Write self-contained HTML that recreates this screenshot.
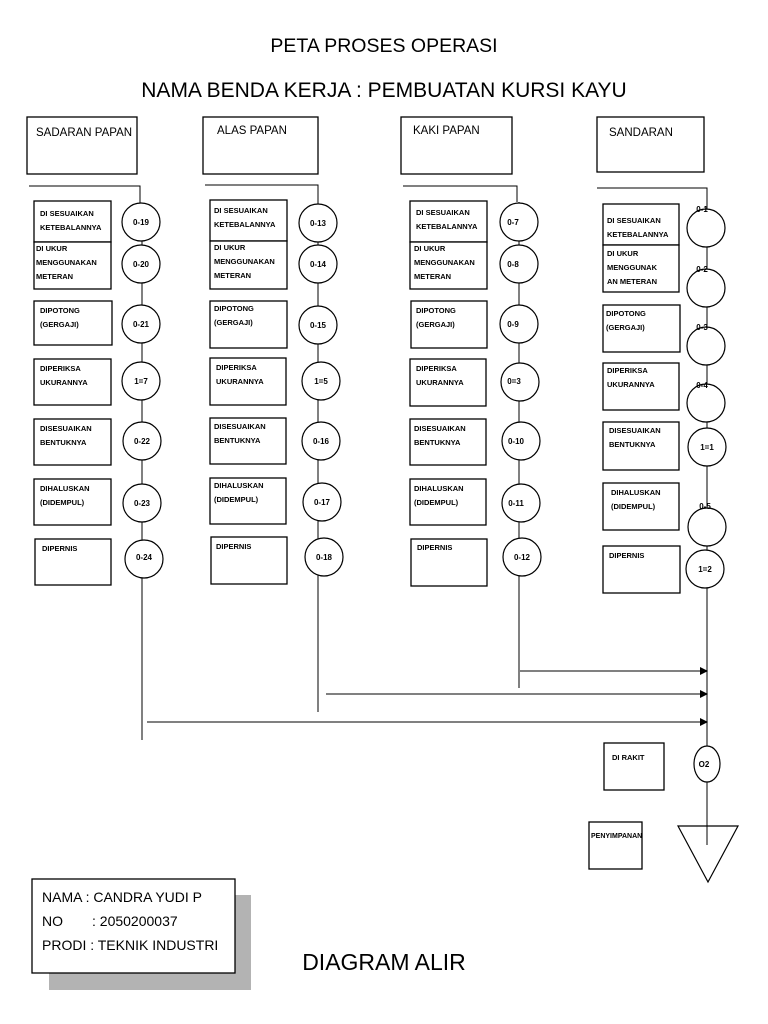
<!DOCTYPE html>
<html><head><meta charset="utf-8"><style>
html,body{margin:0;padding:0;background:#fff;}
svg{display:block;font-family:"Liberation Sans",sans-serif;}
.b{fill:#fff;stroke:#000;stroke-width:1.3}
.t{font-size:7.5px;font-weight:bold;}
.c{fill:#fff;stroke:#000;stroke-width:1.2}
.n{font-size:8px;font-weight:bold;text-anchor:middle;}
.l{stroke:#000;stroke-width:1;fill:none}
.h{font-size:11.5px;}
</style></head><body>
<svg width="768" height="1024" viewBox="0 0 768 1024">
<text x="384" y="52" font-size="19.5" text-anchor="middle">PETA PROSES OPERASI</text>
<text x="384" y="97" font-size="21" text-anchor="middle">NAMA BENDA KERJA : PEMBUATAN KURSI KAYU</text>

<rect class="b" x="27" y="117" width="110" height="57"/><text class="h" x="36" y="136">SADARAN PAPAN</text>
<rect class="b" x="203" y="117" width="115" height="57"/><text class="h" x="217" y="134">ALAS PAPAN</text>
<rect class="b" x="401" y="117" width="111" height="57"/><text class="h" x="413" y="134">KAKI PAPAN</text>
<rect class="b" x="597" y="117" width="107" height="55"/><text class="h" x="609" y="136">SANDARAN</text>

<path class="l" d="M29 186H140V210 M205 185H318V204 M403 186H517V202 M597 188H707V830"/>
<path class="l" d="M142 210V740 M318 204V712 M519 202V688"/>
<path class="l" d="M147 722H700 M326 694H700 M520 671H700"/>
<path d="M700 718L708 722L700 726Z M700 690L708 694L700 698Z M700 667L708 671L700 675Z"/>

<g>
<rect class="b" x="34" y="201" width="77" height="41"/><text class="t" x="40" y="216">DI SESUAIKAN</text><text class="t" x="40" y="230">KETEBALANNYA</text>
<rect class="b" x="34" y="242" width="77" height="47"/><text class="t" x="36" y="251">DI UKUR</text><text class="t" x="36" y="265">MENGGUNAKAN</text><text class="t" x="36" y="279">METERAN</text>
<rect class="b" x="34" y="301" width="78" height="44"/><text class="t" x="40" y="313">DIPOTONG</text><text class="t" x="40" y="327">(GERGAJI)</text>
<rect class="b" x="34" y="359" width="77" height="46"/><text class="t" x="40" y="371">DIPERIKSA</text><text class="t" x="40" y="385">UKURANNYA</text>
<rect class="b" x="34" y="419" width="77" height="46"/><text class="t" x="40" y="431">DISESUAIKAN</text><text class="t" x="40" y="445">BENTUKNYA</text>
<rect class="b" x="34" y="479" width="77" height="46"/><text class="t" x="40" y="491">DIHALUSKAN</text><text class="t" x="40" y="505">(DIDEMPUL)</text>
<rect class="b" x="35" y="539" width="76" height="46"/><text class="t" x="42" y="551">DIPERNIS</text>
<circle class="c" cx="141" cy="222" r="19"/><text class="n" x="141" y="225">0-19</text>
<circle class="c" cx="141" cy="264" r="19"/><text class="n" x="141" y="267">0-20</text>
<circle class="c" cx="141" cy="324" r="19"/><text class="n" x="141" y="327">0-21</text>
<circle class="c" cx="141" cy="381" r="19"/><text class="n" x="141" y="384">1=7</text>
<circle class="c" cx="142" cy="441" r="19"/><text class="n" x="142" y="444">0-22</text>
<circle class="c" cx="142" cy="503" r="19"/><text class="n" x="142" y="506">0-23</text>
<circle class="c" cx="144" cy="559" r="19"/><text class="n" x="144" y="560">0-24</text>
</g>

<g>
<rect class="b" x="210" y="200" width="77" height="41"/><text class="t" x="214" y="213">DI SESUAIKAN</text><text class="t" x="214" y="227">KETEBALANNYA</text>
<rect class="b" x="210" y="241" width="77" height="48"/><text class="t" x="214" y="250">DI UKUR</text><text class="t" x="214" y="264">MENGGUNAKAN</text><text class="t" x="214" y="278">METERAN</text>
<rect class="b" x="210" y="301" width="77" height="47"/><text class="t" x="214" y="311">DIPOTONG</text><text class="t" x="214" y="325">(GERGAJI)</text>
<rect class="b" x="210" y="358" width="76" height="47"/><text class="t" x="216" y="370">DIPERIKSA</text><text class="t" x="216" y="384">UKURANNYA</text>
<rect class="b" x="210" y="418" width="76" height="46"/><text class="t" x="214" y="429">DISESUAIKAN</text><text class="t" x="214" y="443">BENTUKNYA</text>
<rect class="b" x="210" y="478" width="76" height="46"/><text class="t" x="214" y="488">DIHALUSKAN</text><text class="t" x="214" y="502">(DIDEMPUL)</text>
<rect class="b" x="211" y="537" width="76" height="47"/><text class="t" x="216" y="549">DIPERNIS</text>
<circle class="c" cx="318" cy="223" r="19"/><text class="n" x="318" y="226">0-13</text>
<circle class="c" cx="318" cy="264" r="19"/><text class="n" x="318" y="267">0-14</text>
<circle class="c" cx="318" cy="325" r="19"/><text class="n" x="318" y="328">0-15</text>
<circle class="c" cx="321" cy="381" r="19"/><text class="n" x="321" y="384">1=5</text>
<circle class="c" cx="321" cy="441" r="19"/><text class="n" x="321" y="444">0-16</text>
<circle class="c" cx="322" cy="502" r="19"/><text class="n" x="322" y="505">0-17</text>
<circle class="c" cx="324" cy="557" r="19"/><text class="n" x="324" y="560">0-18</text>
</g>

<g>
<rect class="b" x="410" y="201" width="77" height="41"/><text class="t" x="416" y="215">DI SESUAIKAN</text><text class="t" x="416" y="229">KETEBALANNYA</text>
<rect class="b" x="410" y="242" width="77" height="47"/><text class="t" x="414" y="251">DI UKUR</text><text class="t" x="414" y="265">MENGGUNAKAN</text><text class="t" x="414" y="279">METERAN</text>
<rect class="b" x="411" y="301" width="76" height="47"/><text class="t" x="416" y="313">DIPOTONG</text><text class="t" x="416" y="327">(GERGAJI)</text>
<rect class="b" x="410" y="359" width="76" height="47"/><text class="t" x="416" y="371">DIPERIKSA</text><text class="t" x="416" y="385">UKURANNYA</text>
<rect class="b" x="410" y="419" width="76" height="46"/><text class="t" x="414" y="431">DISESUAIKAN</text><text class="t" x="414" y="445">BENTUKNYA</text>
<rect class="b" x="410" y="479" width="76" height="46"/><text class="t" x="414" y="491">DIHALUSKAN</text><text class="t" x="414" y="505">(DIDEMPUL)</text>
<rect class="b" x="411" y="539" width="76" height="47"/><text class="t" x="417" y="550">DIPERNIS</text>
<circle class="c" cx="519" cy="222" r="19"/><text class="n" x="513" y="225">0-7</text>
<circle class="c" cx="519" cy="264" r="19"/><text class="n" x="513" y="267">0-8</text>
<circle class="c" cx="519" cy="324" r="19"/><text class="n" x="513" y="327">0-9</text>
<circle class="c" cx="520" cy="382" r="19"/><text class="n" x="514" y="384">0=3</text>
<circle class="c" cx="521" cy="441" r="19"/><text class="n" x="516" y="444">0-10</text>
<circle class="c" cx="521" cy="503" r="19"/><text class="n" x="516" y="506">0-11</text>
<circle class="c" cx="522" cy="557" r="19"/><text class="n" x="522" y="560">0-12</text>
</g>

<g>
<rect class="b" x="603" y="204" width="76" height="41"/><text class="t" x="607" y="223">DI SESUAIKAN</text><text class="t" x="607" y="237">KETEBALANNYA</text>
<rect class="b" x="603" y="245" width="76" height="47"/><text class="t" x="607" y="256">DI UKUR</text><text class="t" x="607" y="270">MENGGUNAK</text><text class="t" x="607" y="284">AN METERAN</text>
<rect class="b" x="603" y="305" width="77" height="47"/><text class="t" x="606" y="316">DIPOTONG</text><text class="t" x="606" y="330">(GERGAJI)</text>
<rect class="b" x="603" y="363" width="76" height="47"/><text class="t" x="607" y="373">DIPERIKSA</text><text class="t" x="607" y="387">UKURANNYA</text>
<rect class="b" x="603" y="422" width="76" height="48"/><text class="t" x="609" y="433">DISESUAIKAN</text><text class="t" x="609" y="447">BENTUKNYA</text>
<rect class="b" x="603" y="483" width="76" height="47"/><text class="t" x="611" y="495">DIHALUSKAN</text><text class="t" x="611" y="509">(DIDEMPUL)</text>
<rect class="b" x="603" y="546" width="77" height="47"/><text class="t" x="609" y="558">DIPERNIS</text>
<circle class="c" cx="706" cy="228" r="19"/><text class="n" x="702" y="212">0-1</text>
<circle class="c" cx="706" cy="288" r="19"/><text class="n" x="702" y="272">0-2</text>
<circle class="c" cx="706" cy="346" r="19"/><text class="n" x="702" y="330">0-3</text>
<circle class="c" cx="706" cy="403" r="19"/><text class="n" x="702" y="388">0-4</text>
<circle class="c" cx="707" cy="447" r="19"/><text class="n" x="707" y="450">1=1</text>
<circle class="c" cx="707" cy="527" r="19"/><text class="n" x="705" y="509">0-5</text>
<circle class="c" cx="705" cy="569" r="19"/><text class="n" x="705" y="572">1=2</text>
</g>

<rect class="b" x="604" y="743" width="60" height="47"/><text class="t" x="612" y="760">DI RAKIT</text>
<ellipse class="c" cx="707" cy="764" rx="13" ry="18"/><text class="n" x="704" y="767">O2</text>
<rect class="b" x="589" y="822" width="53" height="47"/><text class="t" x="591" y="838" style="font-size:7px">PENYIMPANAN</text>
<path d="M678 826H738L708 882Z" fill="#fff" stroke="#000" stroke-width="1.2"/>
<path class="l" d="M707 782V845"/>

<rect x="49" y="895" width="202" height="95" fill="#b3b3b3"/>
<rect class="b" x="32" y="879" width="203" height="94"/>
<text x="42" y="902" font-size="14">NAMA : CANDRA YUDI P</text>
<text x="42" y="926" font-size="14">NO</text><text x="92" y="926" font-size="14">: 2050200037</text>
<text x="42" y="950" font-size="14">PRODI : TEKNIK INDUSTRI</text>
<text x="384" y="970" font-size="23" text-anchor="middle">DIAGRAM ALIR</text>
</svg>
</body></html>
